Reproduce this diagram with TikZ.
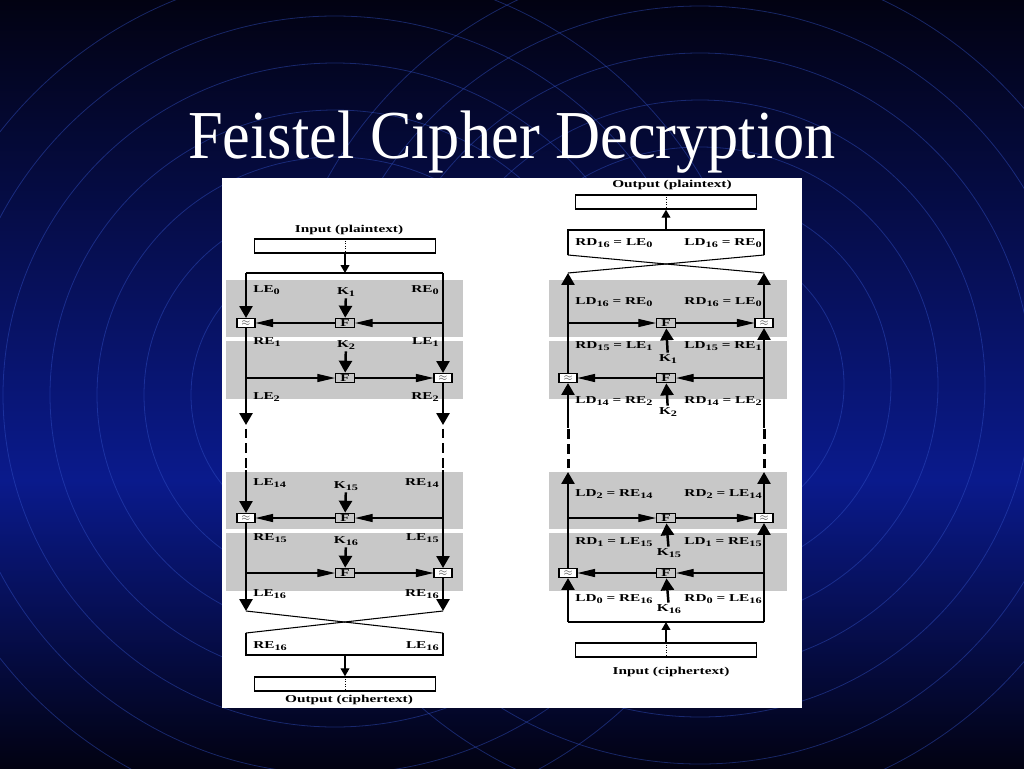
\documentclass[tikz,border=0pt]{standalone}
\usepackage{fontspec}
\setmainfont{Liberation Serif}
\newfontfamily\figfont{Liberation Serif}[FakeStretch=1.45]
\usetikzlibrary{arrows.meta}
\definecolor{slidenavy}{HTML}{020212}
\definecolor{slideblue}{HTML}{0A1A8C}
\definecolor{ringblue}{HTML}{3352C8}
\definecolor{bandgrey}{HTML}{C8C8C8}
\newcommand{\sbs}[1]{\raisebox{-0.35ex}{\fontsize{4.8}{5}\selectfont #1}}
\newcommand{\xorsym}{{\fontsize{4.5}{4.5}\selectfont$\approx$}}
\begin{document}
\begin{tikzpicture}[x=0.02cm,y=-0.02cm,
  lbl/.style={font=\figfont\fontsize{6}{7}\selectfont\bfseries,inner sep=0},
  fbox/.style={draw,fill=bandgrey,line width=0.7pt,minimum width=0.38cm,minimum height=0.19cm,inner sep=0,font=\figfont\fontsize{6}{6}\selectfont\bfseries},
  xorbox/.style={draw,fill=white,line width=0.6pt,minimum width=0.36cm,minimum height=0.18cm,inner sep=0,text=black!70},
  iobox/.style={draw,fill=white,line width=0.8pt,minimum width=3.63cm,minimum height=0.28cm,inner sep=0},
  band/.style={fill=bandgrey},
  ring/.style={ringblue,line width=0.45pt,opacity=0.45},
  data/.style={line width=1.4pt},
  wire/.style={line width=0.6pt},
  gap/.style={line width=1.7pt,dash pattern=on 5.6pt off 2.9pt},
  vtip/.style={-{Triangle[length=6.8pt,width=7.4pt]}},
  htip/.style={-{Triangle[length=10pt,width=4.6pt]}},
  iotip/.style={-{Triangle[length=4.5pt,width=5pt]}}]
  \useasboundingbox (0,0) rectangle (1024,768);
  % Slide background
  \shade[top color=slidenavy,bottom color=slideblue] (0,0) rectangle (1024,480);
  \shade[top color=slideblue,bottom color=slidenavy] (0,480) rectangle (1024,768);
  \begin{scope}
    \clip (0,0) rectangle (1024,768);
    \foreach \r in {50,97,...,440} {
      \draw[ring] (335,395) circle[radius=\r*0.02cm];
      \draw[ring] (700,385) circle[radius=\r*0.02cm];
    }
  \end{scope}
  % Title
  \node[text=white,font=\fontsize{35.5}{40}\selectfont,anchor=base,inner sep=0] (title) at (512,158)
    {\scalebox{1}[1.1]{Feistel Cipher Decryption}};
  % Figure panel
  \fill[white] (222,178) rectangle (802,708);
  \foreach \xa/\xb in {226/463,549/787}
    \foreach \ya/\yb in {280/337,341/399,472/529,533/591}
      \fill[band] (\xa,\ya) rectangle (\xb,\yb);

  % ---- Encryption (left) ----
  \node[lbl] (inL) at (349,230) {Input (plaintext)};
  \node[iobox] (inboxL) at (345,246) {};
  \draw[densely dotted,line width=0.4pt] (inboxL.north) -- (inboxL.south);
  \coordinate (tl) at (246,273);
  \coordinate (tm) at (345,273);
  \coordinate (tr) at (443,273);
  \draw[wire] (tl) -- (tr);
  \draw[wire,iotip] (inboxL.south) -- (tm);
  % Rounds
  \node[fbox] (fL1) at (345,323) {F};
  \node[fbox] (fL2) at (345,378) {F};
  \node[fbox] (fL15) at (345,518) {F};
  \node[fbox] (fL16) at (345,573) {F};
  \node[xorbox] (xL1) at (246,323) {\xorsym};
  \node[xorbox] (xL2) at (443,378) {\xorsym};
  \node[xorbox] (xL15) at (246,518) {\xorsym};
  \node[xorbox] (xL16) at (443,573) {\xorsym};
  \node[lbl] (kL1) at (346,292) {K\sbs{1}};
  \node[lbl] (kL2) at (346,345) {K\sbs{2}};
  \node[lbl] (kL15) at (346,486) {K\sbs{15}};
  \node[lbl] (kL16) at (346,541) {K\sbs{16}};
  \node[lbl,anchor=west] at (253,290) {LE\sbs{0}};
  \node[lbl,anchor=east] at (439,290) {RE\sbs{0}};
  \node[lbl,anchor=west] at (253,342) {RE\sbs{1}};
  \node[lbl,anchor=east] at (439,342) {LE\sbs{1}};
  \node[lbl,anchor=west] at (253,397) {LE\sbs{2}};
  \node[lbl,anchor=east] at (439,397) {RE\sbs{2}};
  \node[lbl,anchor=west] at (253,483) {LE\sbs{14}};
  \node[lbl,anchor=east] at (439,483) {RE\sbs{14}};
  \node[lbl,anchor=west] at (253,538) {RE\sbs{15}};
  \node[lbl,anchor=east] at (439,538) {LE\sbs{15}};
  \node[lbl,anchor=west] at (253,594) {LE\sbs{16}};
  \node[lbl,anchor=east] at (439,594) {RE\sbs{16}};
  % Round 1 and 2
  \draw[data,vtip] (tl) -- (xL1);
  \draw[data,vtip] (tr) -- (xL2);
  \draw[data,vtip,shorten <=1pt] (kL1) -- (fL1);
  \draw[wire,htip] (tr |- fL1) -- (fL1);
  \draw[wire,htip] (fL1) -- (xL1);
  \draw[data,vtip,shorten <=1pt] (kL2) -- (fL2);
  \draw[wire,htip] (xL1 |- fL2) -- (fL2);
  \draw[wire,htip] (fL2) -- (xL2);
  % Skipped rounds
  \coordinate (dL1) at (246,425);
  \coordinate (dR1) at (443,425);
  \coordinate (uL1) at (246,470);
  \coordinate (uR1) at (443,470);
  \draw[data,vtip] (xL1) -- (dL1);
  \draw[data,vtip] (xL2) -- (dR1);
  \draw[gap] ([yshift=-2pt]dL1) -- (uL1);
  \draw[gap] ([yshift=-2pt]dR1) -- (uR1);
  % Round 15 and 16
  \draw[data,vtip] (uL1) -- (xL15);
  \draw[data,vtip] (uR1) -- (xL16);
  \draw[data,vtip,shorten <=1pt] (kL15) -- (fL15);
  \draw[wire,htip] (uR1 |- fL15) -- (fL15);
  \draw[wire,htip] (fL15) -- (xL15);
  \draw[data,vtip,shorten <=1pt] (kL16) -- (fL16);
  \draw[wire,htip] (xL15 |- fL16) -- (fL16);
  \draw[wire,htip] (fL16) -- (xL16);
  % Swap
  \coordinate (bl) at (246,611);
  \coordinate (br) at (443,611);
  \coordinate (cl) at (246,633);
  \coordinate (cr) at (443,633);
  \coordinate (ol) at (246,655);
  \coordinate (om) at (345,655);
  \coordinate (or) at (443,655);
  \draw[data,vtip] (xL15) -- (bl);
  \draw[data,vtip] (xL16) -- (br);
  \draw[wire] (bl) -- (cr);
  \draw[wire] (br) -- (cl);
  \draw[line width=0.7pt] (cl) -- (ol) -- (or) -- (cr);
  \node[lbl,anchor=west] at (253,646) {RE\sbs{16}};
  \node[lbl,anchor=east] at (439,646) {LE\sbs{16}};
  \node[iobox] (outboxL) at (345,684) {};
  \draw[densely dotted,line width=0.4pt] (outboxL.north) -- (outboxL.south);
  \draw[wire,iotip] (om) -- (outboxL.north);
  \node[lbl] (outL) at (349,700) {Output (ciphertext)};

  % ---- Decryption (right) ----
  \node[lbl] (outR) at (672,185) {Output (plaintext)};
  \node[iobox] (outboxR) at (666,202) {};
  \draw[densely dotted,line width=0.4pt] (outboxR.north) -- (outboxR.south);
  \coordinate (tbm) at (666,230);
  \coordinate (tbl) at (568,230);
  \coordinate (tbr) at (764,230);
  \coordinate (tbl2) at (568,255);
  \coordinate (tbr2) at (764,255);
  \coordinate (al) at (568,273);
  \coordinate (ar) at (764,273);
  \draw[wire,iotip] (tbm) -- (outboxR.south);
  \draw[line width=0.7pt] (tbl2) -- (tbl) -- (tbr) -- (tbr2);
  \draw[wire] (tbl2) -- (ar);
  \draw[wire] (tbr2) -- (al);
  \node[lbl,anchor=west] at (575,243) {RD\sbs{16} = LE\sbs{0}};
  \node[lbl,anchor=east] at (762,243) {LD\sbs{16} = RE\sbs{0}};
  % Rounds
  \node[fbox] (fR1) at (666,323) {F};
  \node[fbox] (fR2) at (666,378) {F};
  \node[fbox] (fR3) at (666,518) {F};
  \node[fbox] (fR4) at (666,573) {F};
  \node[xorbox] (xR1) at (764,323) {\xorsym};
  \node[xorbox] (xR2) at (568,378) {\xorsym};
  \node[xorbox] (xR3) at (764,518) {\xorsym};
  \node[xorbox] (xR4) at (568,573) {\xorsym};
  \node[lbl] (kR1) at (668,359) {K\sbs{1}};
  \node[lbl] (kR2) at (668,412) {K\sbs{2}};
  \node[lbl] (kR15) at (669,553) {K\sbs{15}};
  \node[lbl] (kR16) at (669,609) {K\sbs{16}};
  \node[lbl,anchor=west] at (575,302) {LD\sbs{16} = RE\sbs{0}};
  \node[lbl,anchor=east] at (762,302) {RD\sbs{16} = LE\sbs{0}};
  \node[lbl,anchor=west] at (575,346) {RD\sbs{15} = LE\sbs{1}};
  \node[lbl,anchor=east] at (762,346) {LD\sbs{15} = RE\sbs{1}};
  \node[lbl,anchor=west] at (575,401) {LD\sbs{14} = RE\sbs{2}};
  \node[lbl,anchor=east] at (762,401) {RD\sbs{14} = LE\sbs{2}};
  \node[lbl,anchor=west] at (575,494) {LD\sbs{2} = RE\sbs{14}};
  \node[lbl,anchor=east] at (762,494) {RD\sbs{2} = LE\sbs{14}};
  \node[lbl,anchor=west] at (575,542) {RD\sbs{1} = LE\sbs{15}};
  \node[lbl,anchor=east] at (762,542) {LD\sbs{1} = RE\sbs{15}};
  \node[lbl,anchor=west] at (575,599) {LD\sbs{0} = RE\sbs{16}};
  \node[lbl,anchor=east] at (762,599) {RD\sbs{0} = LE\sbs{16}};
  % Top two rounds
  \draw[data,vtip] (xR2) -- (al);
  \draw[data,vtip] (xR1) -- (ar);
  \draw[data,vtip,shorten <=1pt] (kR1) -- (fR1);
  \draw[wire,htip] (xR2 |- fR1) -- (fR1);
  \draw[wire,htip] (fR1) -- (xR1);
  \coordinate (dL) at (568,428);
  \coordinate (dR) at (764,428);
  \coordinate (uL) at (568,472);
  \coordinate (uR) at (764,472);
  \draw[data,vtip] (dR) -- (xR1);
  \draw[data,vtip] (dL) -- (xR2);
  \draw[data,vtip,shorten <=1pt] (kR2) -- (fR2);
  \draw[wire,htip] (dR |- fR2) -- (fR2);
  \draw[wire,htip] (fR2) -- (xR2);
  % Skipped rounds
  \draw[gap] ([yshift=2pt]uL) -- (dL);
  \draw[gap] ([yshift=2pt]uR) -- (dR);
  % Bottom two rounds
  \coordinate (bL) at (568,622);
  \coordinate (bm) at (666,622);
  \coordinate (bR) at (764,622);
  \draw[data,vtip] (xR4) -- (uL);
  \draw[data,vtip] (xR3) -- (uR);
  \draw[data,vtip,shorten <=1pt] (kR15) -- (fR3);
  \draw[wire,htip] (xR4 |- fR3) -- (fR3);
  \draw[wire,htip] (fR3) -- (xR3);
  \draw[data,vtip] (bR) -- (xR3);
  \draw[data,vtip] (bL) -- (xR4);
  \draw[data,vtip,shorten <=1pt] (kR16) -- (fR4);
  \draw[wire,htip] (bR |- fR4) -- (fR4);
  \draw[wire,htip] (fR4) -- (xR4);
  \draw[line width=0.9pt] (bL) -- (bR);
  \node[iobox] (inboxR) at (666,650) {};
  \draw[densely dotted,line width=0.4pt] (inboxR.north) -- (inboxR.south);
  \draw[wire,iotip] (inboxR.north) -- (bm);
  \node[lbl] (inR) at (671,672) {Input (ciphertext)};
\end{tikzpicture}
\end{document}
